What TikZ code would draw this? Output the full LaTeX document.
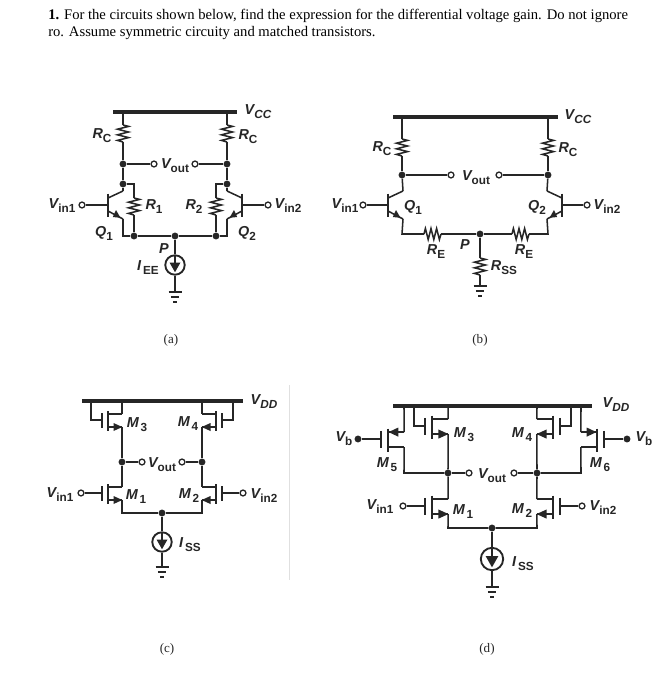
\documentclass[tikz,border=0pt]{standalone}
\usepackage{fontspec}
\setmainfont{Liberation Serif}
\newfontfamily\lfont{Liberation Sans}
\usetikzlibrary{calc}
\definecolor{ink}{HTML}{262626}
\newcommand{\Lb}[2]{{\lfont\bfseries\itshape #1}\raisebox{-0.28em}{\lfont\bfseries\fontsize{8.8}{9}\selectfont #2}}
\newcommand{\Li}[2]{{\lfont\bfseries\itshape #1}\raisebox{-0.28em}{\lfont\bfseries\itshape\fontsize{8.8}{9}\selectfont #2}}
\tikzset{
  x=0.75pt,y=-0.75pt,
  wire/.style={draw=ink,line width=1.15pt,line join=miter},
  railbar/.style={draw=ink,line width=2.6pt},
  thickbar/.style={draw=ink,line width=2.1pt},
  jdot/.style={circle,fill=ink,draw=none,inner sep=0pt,minimum size=5.2pt},
  termc/.style={circle,fill=white,draw=ink,line width=1pt,inner sep=0pt,minimum size=4.4pt},
  lab/.style={text=ink,inner sep=0pt,font=\lfont\fontsize{10.8}{12}\selectfont},
  capt/.style={text=black!85,inner sep=0pt,font=\fontsize{9.8}{11}\selectfont},
  headt/.style={text=black,inner sep=0pt,anchor=base west,font=\fontsize{10.98}{12}\selectfont},
  resist/.pic={
    \draw[wire] (0,0) -- (5.5,1.4) -- (-5.5,4.2) -- (5.5,7) -- (-5.5,9.8) -- (5.5,12.6) -- (-5.5,15.4) -- (0,17);
    \coordinate (-a) at (0,0); \coordinate (-b) at (0,17);
  },
  bjt/.pic={
    \draw[thickbar] (0,-11.5) -- (0,11.5);
    \draw[wire] (0,-7) -- (15,-14);
    \draw[wire] (0,6) -- (15,14);
    \fill[ink] (12.5,12.8) -- (4.8,12) -- (8,5) -- cycle;
    \coordinate (-b) at (0,0); \coordinate (-c) at (15,-14); \coordinate (-e) at (15,14);
  },
  mos/.pic={
    \draw[thickbar] (0,-9) -- (0,11);
    \draw[thickbar,line width=1.8pt] (-6,-7) -- (-6,8);
    \draw[wire] (14,-6) -- (0,-6);
    \draw[wire] (14,7) -- (0,7);
    \fill[ink] (14.3,7) -- (5.5,3) -- (5.5,11) -- cycle;
    \coordinate (-d) at (14,-6); \coordinate (-s) at (14,7); \coordinate (-g) at (-6,0);
  },
  mosin/.pic={
    \draw[thickbar] (0,-9) -- (0,11);
    \draw[thickbar,line width=1.8pt] (-6,-7) -- (-6,8);
    \draw[wire] (14,-6) -- (0,-6);
    \draw[wire] (14,7) -- (0,7);
    \fill[ink] (0.5,-6) -- (9,-10) -- (9,-2) -- cycle;
    \coordinate (-d) at (14,-6); \coordinate (-s) at (14,7); \coordinate (-g) at (-6,0);
  },
  isrc/.pic={
    \node[circle,draw=ink,line width=1.4pt,minimum size=14.6pt,inner sep=0pt,transform shape] (-o) at (0,0) {};
    \draw[wire] (0,-9.6) -- (0,-2);
    \fill[ink] (-5.5,-2.5) -- (5.5,-2.5) -- (0,7.2) -- cycle;
  },
  gnd/.pic={
    \draw[draw=ink,line width=1.8pt] (-6.5,0) -- (6.5,0);
    \draw[draw=ink,line width=1.8pt] (-4.2,5) -- (4.2,5);
    \draw[draw=ink,line width=1.8pt] (-2,10) -- (2,10);
    \coordinate (-t) at (0,0);
  }
}
\begin{document}
\begin{tikzpicture}
\useasboundingbox (0,0) rectangle (661,700);
\fill[white] (0,0) rectangle (661,700);
% heading
\node[headt] (h1) at (48,19) {\textbf{1.} For the circuits shown below, find the expression for the differential voltage gain. Do not ignore};
\node[headt] (h2) at (48,36) {ro. Assume symmetric circuity and matched transistors.};
% faint rule
\coordinate (fa) at (289,385); \coordinate (fb) at (289,580);
\draw[black!12,line width=0.6pt] (fa) -- (fb);

%%%%%%%% (a)
\coordinate (abl) at (113,112); \coordinate (abr) at (237,112);
\coordinate (ata) at (123,112); \coordinate (atb) at (227,112);
\draw[railbar] (abl) -- (abr);
\pic (arc1) at (123,125) {resist};
\pic (arc2) at (227,125) {resist};
\node[jdot] (av1) at (123,164) {}; \node[jdot] (av2) at (227,164) {};
\node[termc] (atv1) at (154,164) {}; \node[termc] (atv2) at (195,164) {};
\node[jdot] (ac1) at (123,184) {}; \node[jdot] (ac2) at (227,184) {};
\pic (aq1) at (108,205) {bjt};
\pic[xscale=-1] (aq2) at (242,205) {bjt};
\node[termc] (ain1) at (82,205) {}; \node[termc] (ain2) at (268,205) {};
\coordinate (ace1) at (123,236); \coordinate (ace2) at (227,236);
\node[jdot] (ar1d) at (134,236) {}; \node[jdot] (ar2d) at (216,236) {};
\node[jdot] (ap) at (175,236) {};
\coordinate (ar1t) at (134,184); \coordinate (ar2t) at (216,184);
\pic (ar1) at (134,198) {resist};
\pic (ar2) at (216,198) {resist};
\pic (ai) at (175,265) {isrc};
\pic (ag) at (175,292) {gnd};
\draw[wire] (ata) -- (arc1-a); \draw[wire] (arc1-b) -- (av1); \draw[wire] (av1) -- (ac1); \draw[wire] (ac1) -- (aq1-c);
\draw[wire] (atb) -- (arc2-a); \draw[wire] (arc2-b) -- (av2); \draw[wire] (av2) -- (ac2); \draw[wire] (ac2) -- (aq2-c);
\draw[wire] (av1) -- (atv1); \draw[wire] (av2) -- (atv2);
\draw[wire] (ain1) -- (aq1-b); \draw[wire] (ain2) -- (aq2-b);
\draw[wire] (ac1) -- (ar1t) -- (ar1-a); \draw[wire] (ar1-b) -- (ar1d);
\draw[wire] (ac2) -- (ar2t) -- (ar2-a); \draw[wire] (ar2-b) -- (ar2d);
\draw[wire] (aq1-e) -- (ace1) -- (ar1d) -- (ap) -- (ar2d) -- (ace2) -- (aq2-e);
\draw[wire] (ap) -- (ai-o); \draw[wire] (ai-o) -- (ag-t);
\node[lab] (la1) at (258,112) {\Li{V}{CC}};
\node[lab] (la2) at (102,136) {\Lb{R}{C}};
\node[lab] (la3) at (248,137) {\Lb{R}{C}};
\node[lab] (la4) at (175,166) {\Lb{V}{out}};
\node[lab] (la5) at (62,206) {\Lb{V}{in1}};
\node[lab] (la6) at (288,206) {\Lb{V}{in2}};
\node[lab] (la7) at (154,207) {\Lb{R}{1}};
\node[lab] (la8) at (194,207) {\Lb{R}{2}};
\node[lab] (la9) at (104,233) {\Lb{Q}{1}};
\node[lab] (la10) at (247,233) {\Lb{Q}{2}};
\node[lab] (la11) at (164,249) {\textbf{\textit{P}}};
\node[lab] (la12) at (148,268) {\Lb{I}{\,EE}};
\node[capt] (ca) at (171,340) {(a)};

%%%%%%%% (b)
\coordinate (bbl) at (393,117); \coordinate (bbr) at (558,117);
\coordinate (bta) at (402,117); \coordinate (btb) at (548,117);
\draw[railbar] (bbl) -- (bbr);
\pic (brc1) at (402,139) {resist};
\pic (brc2) at (548,139) {resist};
\node[jdot] (bv1) at (402,175) {}; \node[jdot] (bv2) at (548,175) {};
\node[termc] (btv1) at (451,175) {}; \node[termc] (btv2) at (499,175) {};
\pic (bq1) at (388,205) {bjt};
\pic[xscale=-1] (bq2) at (562,205) {bjt};
\node[termc] (bin1) at (363,205) {}; \node[termc] (bin2) at (587,205) {};
\coordinate (bc1) at (402,234); \coordinate (bc2) at (548,234);
\node[jdot] (bp) at (480,234) {};
\pic[rotate=90] (bre1) at (424,234) {resist};
\pic[rotate=90] (bre2) at (512,234) {resist};
\pic (brss) at (480,258) {resist};
\pic (bg) at (480,286) {gnd};
\draw[wire] (bta) -- (brc1-a); \draw[wire] (brc1-b) -- (bv1); \draw[wire] (bv1) -- (bq1-c);
\draw[wire] (btb) -- (brc2-a); \draw[wire] (brc2-b) -- (bv2); \draw[wire] (bv2) -- (bq2-c);
\draw[wire] (bv1) -- (btv1); \draw[wire] (bv2) -- (btv2);
\draw[wire] (bin1) -- (bq1-b); \draw[wire] (bin2) -- (bq2-b);
\draw[wire] (bq1-e) -- (bc1) -- (bre1-a); \draw[wire] (bre1-b) -- (bp);
\draw[wire] (bp) -- (bre2-a); \draw[wire] (bre2-b) -- (bc2) -- (bq2-e);
\draw[wire] (bp) -- (brss-a); \draw[wire] (brss-b) -- (bg-t);
\node[lab] (lb1) at (578,117) {\Li{V}{CC}};
\node[lab] (lb2) at (382,149) {\Lb{R}{C}};
\node[lab] (lb3) at (568,150) {\Lb{R}{C}};
\node[lab] (lb4) at (476,178) {\Lb{V}{out}};
\node[lab] (lb5) at (345,206) {\Lb{V}{in1}};
\node[lab] (lb6) at (607,207) {\Lb{V}{in2}};
\node[lab] (lb7) at (413,207) {\Lb{Q}{1}};
\node[lab] (lb8) at (537,207) {\Lb{Q}{2}};
\node[lab] (lb9) at (436,252) {\Lb{R}{E}};
\node[lab] (lb10) at (524,252) {\Lb{R}{E}};
\node[lab] (lb11) at (465,245) {\textbf{\textit{P}}};
\node[lab] (lb12) at (504,268) {\Lb{R}{SS}};
\node[capt] (cb) at (480,340) {(b)};

%%%%%%%% (c)
\coordinate (cbl) at (82,401); \coordinate (cbr) at (243,401);
\coordinate (cta) at (122,401); \coordinate (ctb) at (202,401);
\coordinate (cg3t) at (91,401); \coordinate (cg4t) at (233,401);
\draw[railbar] (cbl) -- (cbr);
\pic (cm3) at (108,420) {mos};
\pic[xscale=-1] (cm4) at (216,420) {mos};
\pic (cm1) at (108,493) {mos};
\pic[xscale=-1] (cm2) at (216,493) {mos};
\node[jdot] (cv1) at (122,462) {}; \node[jdot] (cv2) at (202,462) {};
\node[termc] (ctv1) at (142,462) {}; \node[termc] (ctv2) at (182,462) {};
\node[termc] (cin1) at (81,493) {}; \node[termc] (cin2) at (243,493) {};
\coordinate (cc1) at (122,513); \coordinate (cc2) at (202,513);
\node[jdot] (cp) at (162,513) {};
\pic (ci) at (162,542) {isrc};
\pic (cgn) at (162,567) {gnd};
\draw[wire] (cta) -- (cm3-d); \draw[wire] (ctb) -- (cm4-d);
\draw[wire] (cm3-g) -| (cg3t); \draw[wire] (cm4-g) -| (cg4t);
\draw[wire] (cm3-s) -- (cv1); \draw[wire] (cm4-s) -- (cv2);
\draw[wire] (cv1) -- (cm1-d); \draw[wire] (cv2) -- (cm2-d);
\draw[wire] (cv1) -- (ctv1); \draw[wire] (cv2) -- (ctv2);
\draw[wire] (cin1) -- (cm1-g); \draw[wire] (cin2) -- (cm2-g);
\draw[wire] (cm1-s) -- (cc1) -- (cp) -- (cc2) -- (cm2-s);
\draw[wire] (cp) -- (ci-o); \draw[wire] (ci-o) -- (cgn-t);
\node[lab] (lc1) at (264,402) {\Li{V}{DD}};
\node[lab] (lc2) at (137,425) {\Lb{M}{\,3}};
\node[lab] (lc3) at (188,424) {\Lb{M}{\,4}};
\node[lab] (lc4) at (162,465) {\Lb{V}{out}};
\node[lab] (lc5) at (60,495) {\Lb{V}{in1}};
\node[lab] (lc6) at (264,496) {\Lb{V}{in2}};
\node[lab] (lc7) at (136,497) {\Lb{M}{\,1}};
\node[lab] (lc8) at (189,496) {\Lb{M}{\,2}};
\node[lab] (lc9) at (190,545) {\Lb{I}{\,SS}};
\node[capt] (cc) at (167,649) {(c)};

%%%%%%%% (d)
\coordinate (dbl) at (393,406); \coordinate (dbr) at (592,406);
\coordinate (dta) at (448,406); \coordinate (dtb) at (537,406);
\coordinate (dg3t) at (414,406); \coordinate (dg4t) at (571,406);
\coordinate (d5t) at (404,406); \coordinate (d6t) at (581,406);
\draw[railbar] (dbl) -- (dbr);
\pic[scale=1.15] (dm3) at (432,426) {mos};
\pic[xscale=-1.15,yscale=1.15] (dm4) at (553,426) {mos};
\pic[scale=1.15] (dm1) at (432,506) {mos};
\pic[xscale=-1.15,yscale=1.15] (dm2) at (553,506) {mos};
\pic[scale=1.15] (dm5) at (388,439) {mosin};
\pic[xscale=-1.15,yscale=1.15] (dm6) at (597,439) {mosin};
\node[jdot] (dv1) at (448,473) {}; \node[jdot] (dv2) at (537,473) {};
\coordinate (dc5) at (404,473); \coordinate (dc6) at (581,473);
\node[termc] (dtv1) at (469,473) {}; \node[termc] (dtv2) at (514,473) {};
\node[jdot] (dvb1) at (358,439) {}; \node[jdot] (dvb2) at (627,439) {};
\node[termc] (din1) at (403,506) {}; \node[termc] (din2) at (582,506) {};
\coordinate (dc1) at (448,528); \coordinate (dc2) at (537,528);
\node[jdot] (dp) at (492,528) {};
\pic[scale=1.15] (di) at (492,559) {isrc};
\pic (dgn) at (492,587) {gnd};
\draw[wire] (dta) -- (dm3-d); \draw[wire] (dtb) -- (dm4-d);
\draw[wire] (dm3-g) -| (dg3t); \draw[wire] (dm4-g) -| (dg4t);
\draw[wire] (d5t) -- (dm5-d); \draw[wire] (d6t) -- (dm6-d);
\draw[wire] (dvb1) -- (dm5-g); \draw[wire] (dvb2) -- (dm6-g);
\draw[wire] (dm5-s) -- (dc5) -- (dv1); \draw[wire] (dm6-s) -- (dc6) -- (dv2);
\draw[wire] (dm3-s) -- (dv1); \draw[wire] (dm4-s) -- (dv2);
\draw[wire] (dv1) -- (dm1-d); \draw[wire] (dv2) -- (dm2-d);
\draw[wire] (dv1) -- (dtv1); \draw[wire] (dv2) -- (dtv2);
\draw[wire] (din1) -- (dm1-g); \draw[wire] (din2) -- (dm2-g);
\draw[wire] (dm1-s) -- (dc1) -- (dp) -- (dc2) -- (dm2-s);
\draw[wire] (dp) -- (di-o); \draw[wire] (di-o) -- (dgn-t);
\node[lab] (ld1) at (616,405) {\Li{V}{DD}};
\node[lab] (ld2) at (344,439) {\Lb{V}{b}};
\node[lab] (ld3) at (644,439) {\Lb{V}{b}};
\node[lab] (ld4) at (464,435) {\Lb{M}{\,3}};
\node[lab] (ld5) at (522,435) {\Lb{M}{\,4}};
\node[lab] (ld6) at (387,465) {\Lb{M}{\,5}};
\node[lab] (ld7) at (600,465) {\Lb{M}{\,6}};
\node[lab] (ld8) at (492,476) {\Lb{V}{out}};
\node[lab] (ld9) at (380,507) {\Lb{V}{in1}};
\node[lab] (ld10) at (603,508) {\Lb{V}{in2}};
\node[lab] (ld11) at (463,512) {\Lb{M}{\,1}};
\node[lab] (ld12) at (522,511) {\Lb{M}{\,2}};
\node[lab] (ld13) at (523,564) {\Lb{I}{\,SS}};
\node[capt] (cd) at (487,649) {(d)};
\end{tikzpicture}
\end{document}
